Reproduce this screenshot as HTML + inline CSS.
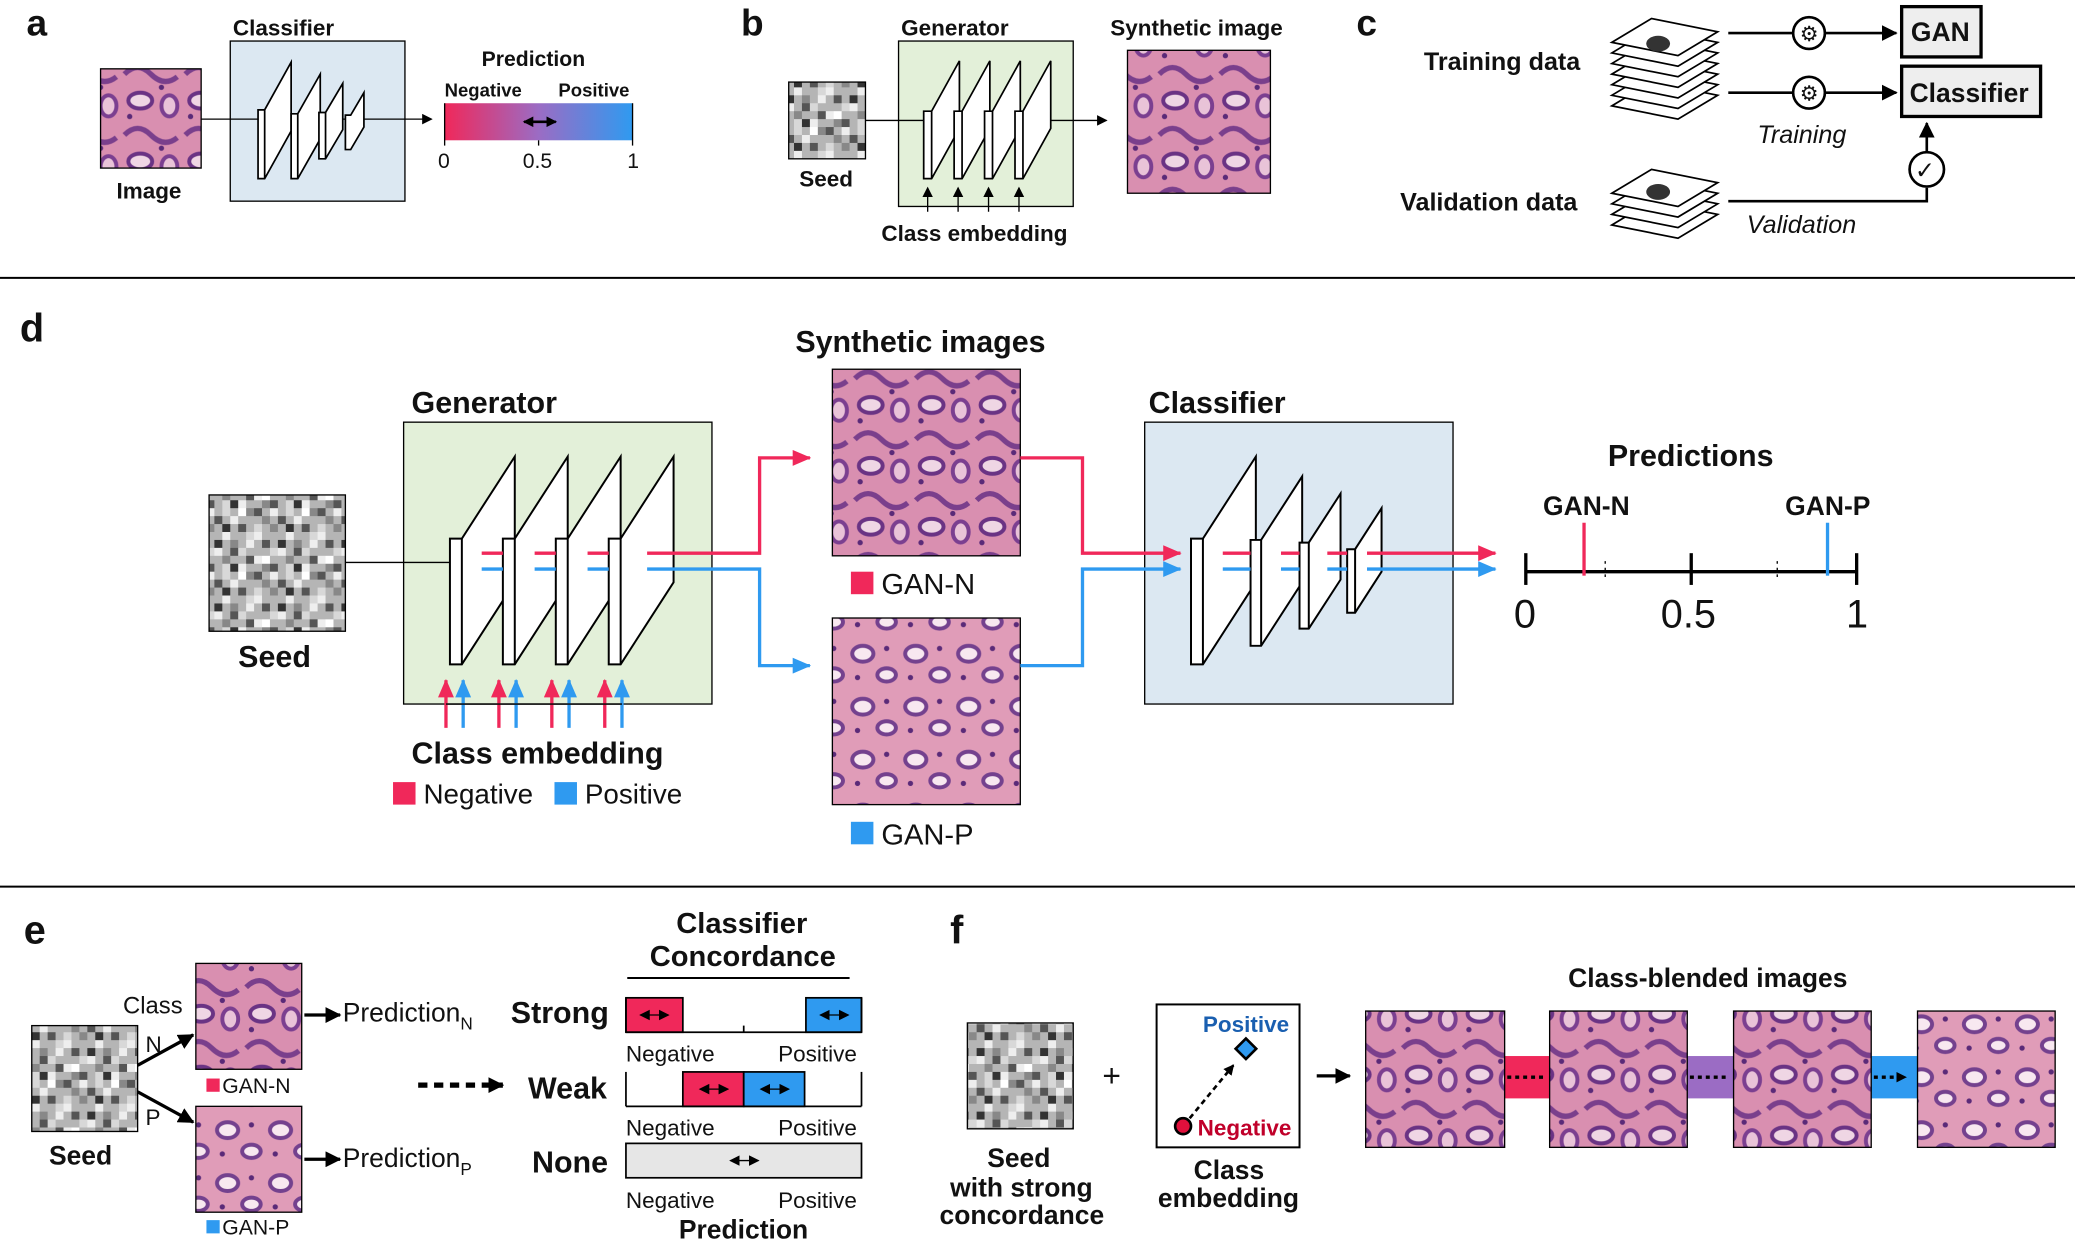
<!DOCTYPE html>
<html><head><meta charset="utf-8"><style>
html,body{margin:0;padding:0;background:#fff;}
svg{display:block;}
text{font-family:"Liberation Sans",sans-serif;fill:#111;}
.b{font-weight:bold;}
</style></head><body>
<svg width="2075" height="1240" viewBox="0 0 1568 937" xmlns="http://www.w3.org/2000/svg">
<defs>
<pattern id="histo" patternUnits="userSpaceOnUse" width="46" height="46">
<rect width="46" height="46" fill="#d98fb0"/>
<path d="M2 10 Q12 0 22 10 T42 12" stroke="#7a3f8c" stroke-width="4" fill="none"/>
<ellipse cx="14" cy="30" rx="9" ry="6" fill="#efd6e4" stroke="#6a3384" stroke-width="3"/>
<ellipse cx="36" cy="34" rx="6" ry="8" fill="#e9c3d8" stroke="#7b3f90" stroke-width="3"/>
<circle cx="30" cy="20" r="2" fill="#5a2a78"/><circle cx="6" cy="42" r="2" fill="#5a2a78"/>
</pattern>
<pattern id="histo2" patternUnits="userSpaceOnUse" width="40" height="40">
<rect width="40" height="40" fill="#e09cb8"/>
<ellipse cx="12" cy="14" rx="8" ry="6" fill="#f8e8f0" stroke="#74418e" stroke-width="3"/>
<ellipse cx="30" cy="30" rx="7" ry="5" fill="#f8e8f0" stroke="#74418e" stroke-width="3"/>
<circle cx="30" cy="10" r="2" fill="#5a2a78"/><circle cx="8" cy="32" r="2" fill="#5a2a78"/>
</pattern>
<pattern id="noise" patternUnits="userSpaceOnUse" width="48" height="48">
<rect width="48" height="48" fill="#b5b5b5"/>
<g fill="#555"><rect x="0" y="0" width="6" height="6"/><rect x="18" y="6" width="6" height="6"/><rect x="36" y="12" width="6" height="6"/><rect x="6" y="24" width="6" height="6"/><rect x="30" y="30" width="6" height="6"/><rect x="12" y="42" width="6" height="6"/><rect x="42" y="36" width="6" height="6"/></g>
<g fill="#eee"><rect x="12" y="0" width="6" height="6"/><rect x="30" y="6" width="6" height="6"/><rect x="0" y="18" width="6" height="6"/><rect x="24" y="18" width="6" height="6"/><rect x="42" y="24" width="6" height="6"/><rect x="18" y="30" width="6" height="6"/><rect x="0" y="36" width="6" height="6"/><rect x="36" y="42" width="6" height="6"/></g>
<g fill="#888"><rect x="6" y="6" width="6" height="6"/><rect x="42" y="0" width="6" height="6"/><rect x="12" y="12" width="6" height="6"/><rect x="30" y="24" width="6" height="6"/><rect x="24" y="36" width="6" height="6"/><rect x="6" y="42" width="6" height="6"/></g>
<g fill="#d8d8d8"><rect x="24" y="0" width="6" height="6"/><rect x="0" y="12" width="6" height="6"/><rect x="42" y="18" width="6" height="6"/><rect x="12" y="30" width="6" height="6"/><rect x="36" y="30" width="6" height="6"/><rect x="24" y="42" width="6" height="6"/></g>
<g fill="#333"><rect x="24" y="12" width="6" height="6"/><rect x="18" y="24" width="6" height="6"/><rect x="30" y="42" width="6" height="6"/></g>
<g fill="#fff"><rect x="36" y="0" width="6" height="6"/><rect x="6" y="36" width="6" height="6"/></g>
</pattern>
<linearGradient id="grad"><stop offset="0" stop-color="#f0285a"/><stop offset="0.5" stop-color="#9b6cc4"/><stop offset="1" stop-color="#2f9af0"/></linearGradient>
<marker id="ah" markerWidth="8" markerHeight="8" refX="7" refY="4" orient="auto-start-reverse" markerUnits="userSpaceOnUse"><path d="M0 0L8 4L0 8z" fill="#000"/></marker>
<marker id="ahL" markerWidth="12" markerHeight="12" refX="11" refY="6" orient="auto" markerUnits="userSpaceOnUse"><path d="M0 0L12 6L0 12z" fill="#000"/></marker>
<marker id="ahR" markerWidth="14" markerHeight="12" refX="13" refY="6" orient="auto" markerUnits="userSpaceOnUse"><path d="M0 0L14 6L0 12z" fill="#f0285a"/></marker>
<marker id="ahB" markerWidth="14" markerHeight="12" refX="13" refY="6" orient="auto" markerUnits="userSpaceOnUse"><path d="M0 0L14 6L0 12z" fill="#2f9af0"/></marker>
</defs>

<line x1="0" y1="210" x2="1568" y2="210" stroke="#000" stroke-width="1.5"/>
<line x1="0" y1="670" x2="1568" y2="670" stroke="#000" stroke-width="1.5"/>

<!-- panel a -->
<text x="20" y="27" font-size="28" class="b">a</text>
<rect x="76" y="52" width="76" height="75" fill="url(#histo)" stroke="#000"/>
<text x="88" y="150" font-size="17" class="b">Image</text>
<rect x="174" y="31" width="132" height="121" fill="#dce8f2" stroke="#000"/>
<text x="176" y="27" font-size="17" class="b">Classifier</text>
<line x1="152" y1="90" x2="326" y2="90" stroke="#000" marker-end="url(#ah)"/>
<g fill="#fff" stroke="#000" stroke-width="1.3">
<polygon points="195,135 200,135 220,99 220,47 200,83 195,83"/><line x1="200" y1="83" x2="200" y2="135"/>
<polygon points="220,135 225,135 242,105 242,56 225,86 220,86"/><line x1="225" y1="86" x2="225" y2="135"/>
<polygon points="241,120 246,120 259,98 259,63 246,85 241,85"/><line x1="246" y1="85" x2="246" y2="120"/>
<polygon points="261,113 265,113 275,96 275,70 265,87 261,87"/>
</g>
<text x="364" y="50" font-size="16" class="b">Prediction</text>
<text x="336" y="73" font-size="14" class="b">Negative</text>
<text x="422" y="73" font-size="14" class="b">Positive</text>
<rect x="336" y="78" width="142" height="28" fill="url(#grad)"/>
<line x1="336" y1="78" x2="336" y2="110" stroke="#000"/><line x1="478" y1="78" x2="478" y2="110" stroke="#000"/>
<line x1="407" y1="106" x2="407" y2="110" stroke="#000"/>
<line x1="396" y1="92" x2="420" y2="92" stroke="#000" stroke-width="2" marker-end="url(#ah)" marker-start="url(#ah)"/>
<text x="331" y="127" font-size="16">0</text><text x="395" y="127" font-size="16">0.5</text><text x="474" y="127" font-size="16">1</text>

<!-- panel b -->
<text x="560" y="27" font-size="28" class="b">b</text>
<rect x="596" y="62" width="58" height="58" fill="url(#noise)" stroke="#000"/>
<text x="604" y="141" font-size="17" class="b">Seed</text>
<rect x="679" y="31" width="132" height="125" fill="#e3f0d9" stroke="#000"/>
<text x="681" y="27" font-size="17" class="b">Generator</text>
<line x1="654" y1="91" x2="836" y2="91" stroke="#000" marker-end="url(#ah)"/>
<g fill="#fff" stroke="#000" stroke-width="1.3">
<polygon points="698,135 704,135 725,97 725,46 704,84 698,84"/><line x1="704" y1="84" x2="704" y2="135"/>
<polygon points="721,135 727,135 748,97 748,46 727,84 721,84"/><line x1="727" y1="84" x2="727" y2="135"/>
<polygon points="744,135 750,135 771,97 771,46 750,84 744,84"/><line x1="750" y1="84" x2="750" y2="135"/>
<polygon points="767,135 773,135 794,97 794,46 773,84 767,84"/><line x1="773" y1="84" x2="773" y2="135"/>
</g>
<g stroke="#000" marker-end="url(#ah)"><line x1="701" y1="160" x2="701" y2="142"/><line x1="724" y1="160" x2="724" y2="142"/><line x1="747" y1="160" x2="747" y2="142"/><line x1="770" y1="160" x2="770" y2="142"/></g>
<text x="666" y="182" font-size="17" class="b">Class embedding</text>
<text x="839" y="27" font-size="17" class="b">Synthetic image</text>
<rect x="852" y="38" width="108" height="108" fill="url(#histo)" stroke="#000"/>

<!-- panel c -->
<text x="1025" y="27" font-size="28" class="b">c</text>
<text x="1076" y="53" font-size="19" class="b">Training data</text>
<text x="1058" y="159" font-size="19" class="b">Validation data</text>
<g fill="#fff" stroke="#000" stroke-width="1.3">
<polygon points="1218,80 1268,90 1298,72 1248,62"/><polygon points="1218,72 1268,82 1298,64 1248,54"/>
<polygon points="1218,64 1268,74 1298,56 1248,46"/><polygon points="1218,56 1268,66 1298,48 1248,38"/>
<polygon points="1218,48 1268,58 1298,40 1248,30"/><polygon points="1218,40 1268,50 1298,32 1248,22"/>
<polygon points="1218,32 1268,42 1298,24 1248,14"/>
<polygon points="1218,170 1268,180 1298,162 1248,152"/><polygon points="1218,162 1268,172 1298,154 1248,144"/>
<polygon points="1218,154 1268,164 1298,146 1248,136"/><polygon points="1218,146 1268,156 1298,138 1248,128"/>
</g>
<ellipse cx="1253" cy="33" rx="9" ry="6" fill="#333"/><ellipse cx="1253" cy="145" rx="9" ry="6" fill="#333"/>
<line x1="1306" y1="25" x2="1433" y2="25" stroke="#000" stroke-width="2" marker-end="url(#ahL)"/>
<line x1="1306" y1="70" x2="1433" y2="70" stroke="#000" stroke-width="2" marker-end="url(#ahL)"/>
<circle cx="1367" cy="25" r="12" fill="#fff" stroke="#000" stroke-width="2"/><text x="1360" y="31" font-size="16">⚙</text>
<circle cx="1367" cy="70" r="12" fill="#fff" stroke="#000" stroke-width="2"/><text x="1360" y="76" font-size="16">⚙</text>
<rect x="1437" y="5" width="60" height="38" fill="#eee" stroke="#000" stroke-width="2.5"/>
<text x="1444" y="31" font-size="20" class="b">GAN</text>
<rect x="1437" y="50" width="105" height="38" fill="#eee" stroke="#000" stroke-width="2.5"/>
<text x="1443" y="77" font-size="20" class="b">Classifier</text>
<text x="1328" y="108" font-size="19" font-style="italic">Training</text>
<polyline points="1306,152 1456,152 1456,142" fill="none" stroke="#000" stroke-width="2"/>
<circle cx="1456" cy="128" r="13" fill="#fff" stroke="#000" stroke-width="2"/><text x="1447" y="135" font-size="18">✓</text>
<line x1="1456" y1="115" x2="1456" y2="93" stroke="#000" stroke-width="2" marker-end="url(#ahL)"/>
<text x="1320" y="176" font-size="19" font-style="italic">Validation</text>

<!-- panel d -->
<text x="15" y="258" font-size="30" class="b">d</text>
<rect x="158" y="374" width="103" height="103" fill="url(#noise)" stroke="#000"/>
<text x="180" y="504" font-size="23" class="b">Seed</text>
<rect x="305" y="319" width="233" height="213" fill="#e3f0d9" stroke="#000"/>
<text x="311" y="312" font-size="23" class="b">Generator</text>
<line x1="261" y1="425" x2="345" y2="425" stroke="#000"/>
<g fill="#fff" stroke="#000" stroke-width="1.5">
<polygon points="340,502 349,502 389,440 389,345 349,407 340,407"/><line x1="349" y1="407" x2="349" y2="502"/>
<polygon points="380,502 389,502 429,440 429,345 389,407 380,407"/><line x1="389" y1="407" x2="389" y2="502"/>
<polygon points="420,502 429,502 469,440 469,345 429,407 420,407"/><line x1="429" y1="407" x2="429" y2="502"/>
<polygon points="460,502 469,502 509,440 509,345 469,407 460,407"/><line x1="469" y1="407" x2="469" y2="502"/>
</g>
<g stroke-width="2.5" fill="none">
<path d="M364 418H380M404 418H420M444 418H460M489 418H574V346H612" stroke="#f0285a" marker-end="url(#ahR)"/>
<path d="M364 430H380M404 430H420M444 430H460M489 430H574V503H612" stroke="#2f9af0" marker-end="url(#ahB)"/>
</g>
<g stroke-width="2.5">
<g stroke="#f0285a" marker-end="url(#ahR)"><line x1="337" y1="550" x2="337" y2="514"/><line x1="377" y1="550" x2="377" y2="514"/><line x1="417" y1="550" x2="417" y2="514"/><line x1="457" y1="550" x2="457" y2="514"/></g>
<g stroke="#2f9af0" marker-end="url(#ahB)"><line x1="350" y1="550" x2="350" y2="514"/><line x1="390" y1="550" x2="390" y2="514"/><line x1="430" y1="550" x2="430" y2="514"/><line x1="470" y1="550" x2="470" y2="514"/></g>
</g>
<line x1="337" y1="532" x2="470" y2="532" stroke="#000"/>
<text x="311" y="577" font-size="23" class="b">Class embedding</text>
<rect x="297" y="591" width="17" height="17" fill="#f0285a"/><text x="320" y="607" font-size="21">Negative</text>
<rect x="419" y="591" width="17" height="17" fill="#2f9af0"/><text x="442" y="607" font-size="21">Positive</text>
<text x="601" y="266" font-size="23" class="b">Synthetic images</text>
<rect x="629" y="279" width="142" height="141" fill="url(#histo)" stroke="#000"/>
<rect x="629" y="467" width="142" height="141" fill="url(#histo2)" stroke="#000"/>
<rect x="643" y="432" width="17" height="17" fill="#f0285a"/><text x="666" y="449" font-size="22">GAN-N</text>
<rect x="643" y="621" width="17" height="17" fill="#2f9af0"/><text x="666" y="638" font-size="22">GAN-P</text>
<rect x="865" y="319" width="233" height="213" fill="#dce8f2" stroke="#000"/>
<text x="868" y="312" font-size="23" class="b">Classifier</text>
<g stroke-width="2.5" fill="none">
<path d="M771 346H818V418H892" stroke="#f0285a" marker-end="url(#ahR)"/>
<path d="M771 503H818V430H892" stroke="#2f9af0" marker-end="url(#ahB)"/>
</g>
<g fill="#fff" stroke="#000" stroke-width="1.5">
<polygon points="900,502 909,502 949,440 949,345 909,407 900,407"/><line x1="909" y1="407" x2="909" y2="502"/>
<polygon points="945,488 953,488 984,440 984,360 953,408 945,408"/><line x1="953" y1="408" x2="953" y2="488"/>
<polygon points="982,475 989,475 1013,438 1013,373 989,410 982,410"/><line x1="989" y1="410" x2="989" y2="475"/>
<polygon points="1018,463 1024,463 1044,432 1044,384 1024,415 1018,415"/><line x1="1024" y1="415" x2="1024" y2="463"/>
</g>
<g stroke-width="2.5" fill="none">
<path d="M924 418H945M968 418H982M1003 418H1018M1033 418H1130" stroke="#f0285a" marker-end="url(#ahR)"/>
<path d="M924 430H945M968 430H982M1003 430H1018M1033 430H1130" stroke="#2f9af0" marker-end="url(#ahB)"/>
</g>
<text x="1215" y="352" font-size="23" class="b">Predictions</text>
<text x="1166" y="389" font-size="20" class="b">GAN-N</text>
<text x="1349" y="389" font-size="20" class="b">GAN-P</text>
<line x1="1153" y1="432" x2="1403" y2="432" stroke="#000" stroke-width="2.5"/>
<g stroke="#000" stroke-width="2.5"><line x1="1153" y1="418" x2="1153" y2="442"/><line x1="1403" y1="418" x2="1403" y2="442"/><line x1="1278" y1="418" x2="1278" y2="442"/></g>
<g stroke="#000" stroke-dasharray="2,3"><line x1="1213" y1="424" x2="1213" y2="438"/><line x1="1343" y1="424" x2="1343" y2="438"/></g>
<line x1="1197" y1="395" x2="1197" y2="435" stroke="#f0285a" stroke-width="2.5"/>
<line x1="1381" y1="395" x2="1381" y2="435" stroke="#2f9af0" stroke-width="2.5"/>
<text x="1144" y="474" font-size="30">0</text><text x="1255" y="474" font-size="30">0.5</text><text x="1395" y="474" font-size="30">1</text>

<!-- panel e -->
<text x="18" y="713" font-size="30" class="b">e</text>
<rect x="24" y="775" width="80" height="80" fill="url(#noise)" stroke="#000"/>
<text x="37" y="880" font-size="20" class="b">Seed</text>
<text x="93" y="766" font-size="18">Class</text>
<text x="110" y="795" font-size="17">N</text><text x="110" y="850" font-size="17">P</text>
<line x1="104" y1="805" x2="146" y2="782" stroke="#000" stroke-width="2.5" marker-end="url(#ahL)"/>
<line x1="104" y1="825" x2="146" y2="848" stroke="#000" stroke-width="2.5" marker-end="url(#ahL)"/>
<rect x="148" y="728" width="80" height="80" fill="url(#histo)" stroke="#000"/>
<rect x="148" y="836" width="80" height="80" fill="url(#histo2)" stroke="#000"/>
<rect x="156" y="815" width="10" height="10" fill="#f0285a"/><text x="168" y="826" font-size="16">GAN-N</text>
<rect x="156" y="922" width="10" height="10" fill="#2f9af0"/><text x="168" y="933" font-size="16">GAN-P</text>
<line x1="230" y1="767" x2="257" y2="767" stroke="#000" stroke-width="2.5" marker-end="url(#ahL)"/>
<line x1="230" y1="876" x2="257" y2="876" stroke="#000" stroke-width="2.5" marker-end="url(#ahL)"/>
<text x="259" y="772" font-size="20">Prediction<tspan font-size="13" dy="6">N</tspan></text>
<text x="259" y="882" font-size="20">Prediction<tspan font-size="13" dy="6">P</tspan></text>
<line x1="316" y1="820" x2="380" y2="820" stroke="#000" stroke-width="4" stroke-dasharray="7,5" marker-end="url(#ahL)"/>
<text x="386" y="773" font-size="23" class="b">Strong</text>
<text x="399" y="830" font-size="23" class="b">Weak</text>
<text x="402" y="886" font-size="23" class="b">None</text>
<text x="511" y="705" font-size="22" class="b">Classifier</text>
<text x="491" y="730" font-size="22" class="b">Concordance</text>
<line x1="474" y1="739" x2="642" y2="739" stroke="#000" stroke-width="1.5"/>
<g stroke="#000" stroke-width="1.3">
<rect x="473" y="754" width="43" height="26" fill="#f0285a"/><rect x="609" y="754" width="42" height="26" fill="#2f9af0"/>
<line x1="473" y1="780" x2="651" y2="780"/><line x1="473" y1="754" x2="473" y2="780"/><line x1="651" y1="754" x2="651" y2="780"/><line x1="562" y1="775" x2="562" y2="780"/>
<rect x="516" y="810" width="46" height="26" fill="#f0285a"/><rect x="562" y="810" width="46" height="26" fill="#2f9af0"/>
<line x1="473" y1="836" x2="651" y2="836"/><line x1="473" y1="810" x2="473" y2="836"/><line x1="651" y1="810" x2="651" y2="836"/>
<rect x="473" y="864" width="178" height="26" fill="#e6e6e6"/>
</g>
<g stroke="#000" stroke-width="1" marker-end="url(#ah)" marker-start="url(#ah)">
<line x1="484" y1="767" x2="505" y2="767"/><line x1="620" y1="767" x2="641" y2="767"/>
<line x1="529" y1="823" x2="550" y2="823"/><line x1="575" y1="823" x2="596" y2="823"/>
<line x1="552" y1="877" x2="573" y2="877"/>
</g>
<text x="473" y="802" font-size="17">Negative</text><text x="588" y="802" font-size="17">Positive</text>
<text x="473" y="858" font-size="17">Negative</text><text x="588" y="858" font-size="17">Positive</text>
<text x="473" y="913" font-size="17">Negative</text><text x="588" y="913" font-size="17">Positive</text>
<text x="513" y="936" font-size="20" class="b">Prediction</text>

<!-- panel f -->
<text x="718" y="713" font-size="30" class="b">f</text>
<rect x="731" y="773" width="80" height="80" fill="url(#noise)" stroke="#000"/>
<text x="746" y="882" font-size="20" class="b">Seed</text>
<text x="718" y="904" font-size="20" class="b">with strong</text>
<text x="710" y="925" font-size="20" class="b">concordance</text>
<text x="833" y="821" font-size="24">+</text>
<rect x="874" y="759" width="108" height="108" fill="#fff" stroke="#000" stroke-width="1.5"/>
<text x="909" y="780" font-size="17" class="b" style="fill:#1a5fb0">Positive</text>
<text x="905" y="858" font-size="17" class="b" style="fill:#c0002a">Negative</text>
<circle cx="894" cy="851" r="6" fill="#e0103c" stroke="#000" stroke-width="2"/>
<rect x="936" y="787" width="11" height="11" fill="#2f9af0" stroke="#000" stroke-width="2" transform="rotate(45 941.5 792.5)"/>
<line x1="899" y1="845" x2="932" y2="805" stroke="#000" stroke-width="2" stroke-dasharray="4,3" marker-end="url(#ah)"/>
<text x="902" y="891" font-size="20" class="b">Class</text>
<text x="875" y="912" font-size="20" class="b">embedding</text>
<line x1="995" y1="813" x2="1020" y2="813" stroke="#000" stroke-width="2.5" marker-end="url(#ahL)"/>
<text x="1185" y="746" font-size="20" class="b">Class-blended images</text>
<rect x="1137" y="798" width="34" height="32" fill="#f0285a"/>
<rect x="1275" y="798" width="35" height="32" fill="#9b6cc4"/>
<rect x="1414" y="798" width="35" height="32" fill="#2f9af0"/>
<rect x="1032" y="764" width="105" height="103" fill="url(#histo)" stroke="#000"/>
<rect x="1171" y="764" width="104" height="103" fill="url(#histo)" stroke="#000"/>
<rect x="1310" y="764" width="104" height="103" fill="url(#histo)" stroke="#000"/>
<rect x="1449" y="764" width="104" height="103" fill="url(#histo2)" stroke="#000"/>
<g stroke="#000" stroke-width="2.5" stroke-dasharray="3,3">
<line x1="1139" y1="814" x2="1168" y2="814"/><line x1="1277" y1="814" x2="1307" y2="814"/><line x1="1416" y1="814" x2="1440" y2="814" marker-end="url(#ah)"/>
</g>
</svg>
</body></html>
